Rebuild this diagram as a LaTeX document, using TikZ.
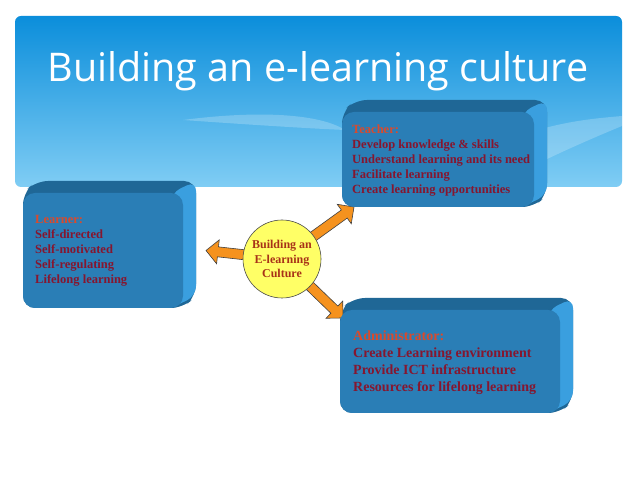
\documentclass[tikz,border=0pt]{standalone}
\usepackage{fontspec}
\setmainfont{Liberation Serif}
\newfontfamily\titlefont{Open Sans}
\usepackage{tikz}
\usetikzlibrary{calc,positioning,backgrounds}

\definecolor{headtop}{HTML}{0B8EDB}
\definecolor{headbot}{HTML}{80CDF4}
\definecolor{facecol}{HTML}{2A7EB6}
\definecolor{bevelcol}{HTML}{1F6796}
\definecolor{sidecol}{HTML}{3A9FDF}
\definecolor{arrowcol}{HTML}{F5921E}
\definecolor{corecol}{HTML}{FFFF66}
\definecolor{headred}{HTML}{DA4A2C}
\definecolor{bodyred}{HTML}{86162F}
\definecolor{corered}{HTML}{A83218}

% block arrow from #1 to #2
\newcommand{\blockarrow}[2]{%
  \path[arrowbody] let \p0=(#1), \p1=($(#2)-(#1)$),
      \n1={atan2(\y1,\x1)}, \n2={veclen(\x1,\y1)} in
    [shift={(\x0,\y0)}, rotate=\n1]
    (0,5) -- ({\n2-12},5) -- ({\n2-12},12) -- (\n2,0)
    -- ({\n2-12},-12) -- ({\n2-12},-5) -- (0,-5) -- cycle;}

\begin{document}
\begin{tikzpicture}[
    x=1pt, y=-1pt,
    face/.style={
        rectangle,
        rounded corners=12pt,
        fill=facecol,
        inner sep=0pt,
        outer sep=0pt,
        anchor=north west
    },
    boxtext/.style={
        align=left,
        inner sep=0pt,
        text=bodyred,
        font=\bfseries\fontsize{12.5}{15}\selectfont
    },
    core/.style={
        circle,
        draw=black!70,
        line width=0.6pt,
        fill=corecol,
        minimum size=78pt,
        inner sep=0pt,
        align=center,
        text=corered,
        font=\bfseries\fontsize{12}{14.5}\selectfont
    },
    arrowbody/.style={draw=black!75, line width=0.6pt, fill=arrowcol}
]
\useasboundingbox (0,0) rectangle (638,478);

% ---------------- Boxes ----------------
\node[face, minimum width=160pt, minimum height=115pt] (learner) at (23,193) {};
\node[boxtext, right=12pt of learner.west] (learnerText)
    {{\color{headred}Learner:}\\Self-directed\\Self-motivated\\Self-regulating\\Lifelong learning};

\node[face, minimum width=192pt, minimum height=95pt] (teacher) at (342,112) {};
\node[boxtext, right=10pt of teacher.west, yshift=-1.5pt] (teacherText)
    {{\color{headred}Teacher:}\\Develop knowledge \& skills\\Understand learning and its need\\Facilitate learning\\Create learning opportunities};

\node[face, minimum width=220pt, minimum height=103pt] (admin) at (340,310) {};
\node[boxtext, right=13pt of admin.west, yshift=-1.5pt,
      font=\bfseries\fontsize{14}{17}\selectfont] (adminText)
    {{\color{headred}Administrator:}\\Create Learning environment\\Provide ICT infrastructure\\Resources for lifelong learning};

% ---------------- Centre ----------------
\node[core] (core) at (282,259) {Building an\\E-learning\\Culture};

\coordinate (tipL) at ([xshift=23pt]learner.east);
\coordinate (tipT) at ([shift={(12,0)}]teacher.south west);
\coordinate (tipA) at ([shift={(3,8)}]admin.north west);

% ---------------- Title ----------------
\begin{scope}[on background layer]
\fill[white] (0,0) rectangle (638,478);
\shade[top color=headtop, bottom color=headbot, rounded corners=6pt] (15,16) rectangle (622,187);
\fill[white, opacity=0.22] (183,120) .. controls (260,110) and (320,114) .. (345,130)
    .. controls (300,128) and (240,124) .. (183,120) -- cycle;
\fill[white, opacity=0.22] (545,128) .. controls (575,120) and (600,118) .. (622,116)
    -- (622,126) .. controls (600,135) and (570,148) .. (545,160) -- cycle;

% ---------------- 3D sides ----------------
\foreach \b in {learner,teacher,admin}{
    \fill[bevelcol, rounded corners=12pt] (\b.north west) -- ([shift={(13,-12)}]\b.north west)
        -- ([shift={(13,-12)}]\b.north east) -- ([shift={(13,-12)}]\b.south east)
        -- (\b.south east) -- (\b.south west) -- cycle;
    \fill[sidecol, rounded corners=10pt] ([xshift=-12pt]\b.north east) -- ([shift={(13,-12)}]\b.north east)
        -- ([shift={(13,-12)}]\b.south east) -- ([xshift=-12pt]\b.south east) -- cycle;
}

% ---------------- Arrows ----------------
\blockarrow{core.center}{tipL}
\blockarrow{core.center}{tipT}
\blockarrow{core.center}{tipA}
\end{scope}

\node[anchor=base, text=white, font=\titlefont\fontsize{39.5}{48}\selectfont] (title) at (318,82)
    {Building an e-learning culture};

\end{tikzpicture}
\end{document}
